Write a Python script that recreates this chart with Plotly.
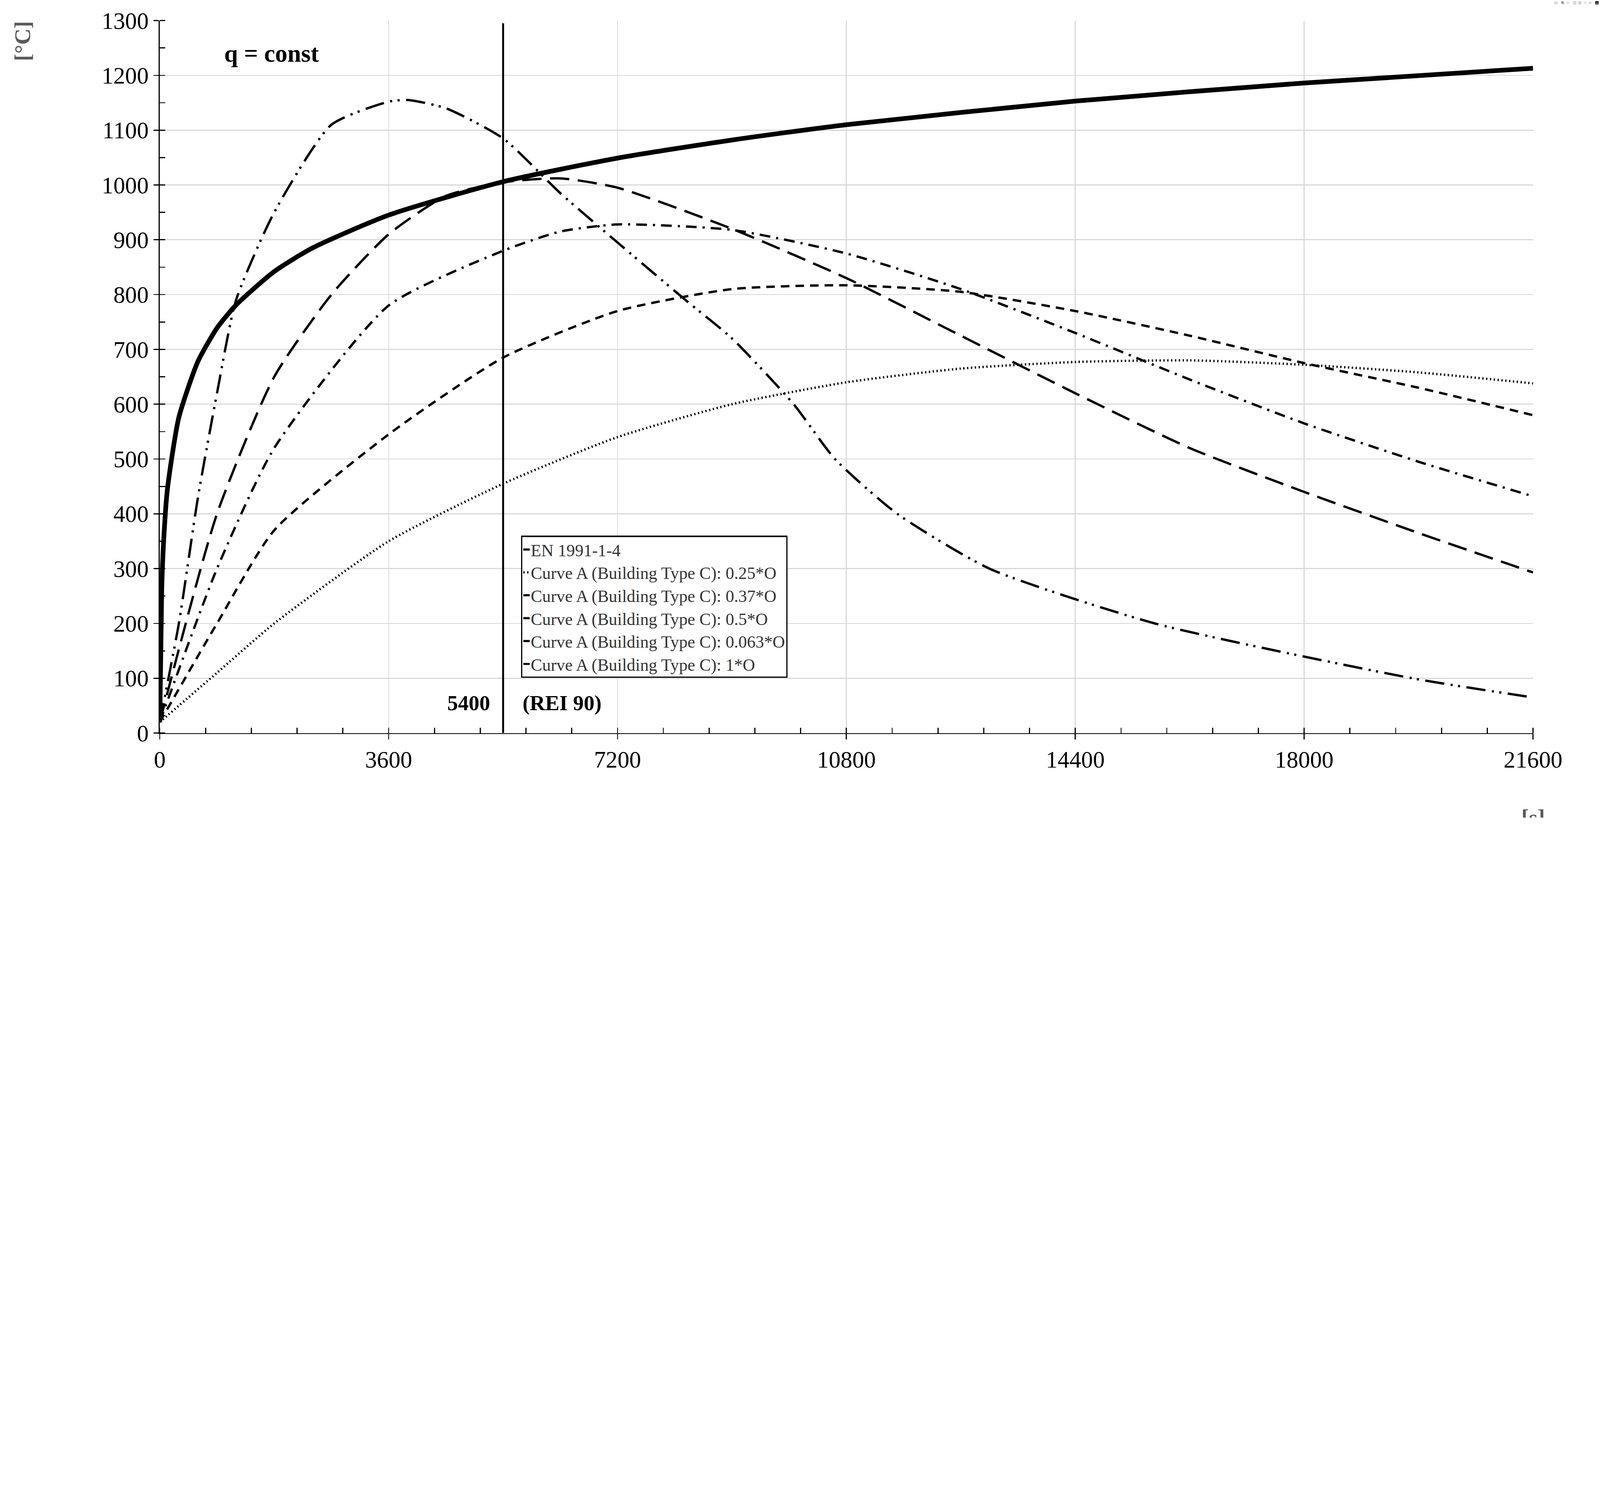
import plotly.graph_objects as go

iso_t = [0, 30, 60, 120, 300, 600, 900, 1200, 1800, 2400, 3600, 5400, 7200, 9000, 10800, 14400, 18000, 21600]
iso_T = [20, 261, 349, 445, 576, 678, 739, 781, 842, 885, 945, 1006, 1049, 1082, 1110, 1153, 1186, 1213]

c025_t = [0, 900, 1800, 3600, 5400, 7200, 9000, 10800, 12600, 14400, 16200, 18000, 19800, 21600]
c025_T = [20, 110, 200, 350, 455, 540, 600, 640, 665, 677, 680, 672, 658, 638]

c037_t = [0, 900, 1800, 3600, 5400, 7200, 9000, 10800, 12600, 14400, 16200, 18000, 19800, 21600]
c037_T = [20, 200, 370, 545, 685, 770, 810, 817, 805, 770, 725, 675, 630, 580]

c05_t = [0, 900, 1800, 3600, 5400, 6300, 7200, 9000, 10800, 12600, 14400, 16200, 18000, 19800, 21600]
c05_T = [20, 300, 520, 780, 880, 915, 928, 918, 875, 810, 730, 645, 565, 495, 432]

c0063_t = [0, 900, 1800, 2700, 3600, 4500, 5400, 6300, 7200, 9000, 10800, 12600, 14400, 16200, 18000, 19800, 21600]
c0063_T = [20, 400, 650, 800, 910, 980, 1005, 1012, 995, 920, 830, 725, 620, 520, 440, 365, 293]

c1_t = [0, 300, 600, 900, 1200, 1800, 2700, 3600, 3900, 4500, 5400, 6300, 7200, 8270, 9000, 9970, 10620, 11600, 13050, 15650, 19700, 21600]
c1_T = [20, 200, 430, 620, 790, 950, 1110, 1152, 1155, 1140, 1085, 985, 895, 790, 720, 600, 500, 400, 300, 200, 100, 65]

x_ticks = [0, 3600, 7200, 10800, 14400, 18000, 21600]
x_labels = ["0", "3600", "7200", "10800", "14400", "18000", "21600"]

names = ["EN 1991-1-4", "Curve A (Building Type C): 0.25*O", "Curve A (Building Type C): 0.37*O",
         "Curve A (Building Type C): 0.5*O", "Curve A (Building Type C): 0.063*O", "Curve A (Building Type C): 1*O"]
series = [(iso_t, iso_T), (c025_t, c025_T), (c037_t, c037_T), (c05_t, c05_T), (c0063_t, c0063_T), (c1_t, c1_T)]
dashes = ["solid", "6px,12px", "40px,28px", "50px,28px,10px,28px", "90px,40px", "90px,30px,10px,25px,10px,30px"]
widths = [22, 11, 11, 11, 11, 11]

FONT = "Liberation Serif"
fig = go.Figure()
for (t, T), n, d, w in zip(series, names, dashes, widths):
    fig.add_trace(go.Scatter(x=t, y=T, name=n, mode="lines",
                             line=dict(color="black", width=w, dash=d, shape="spline", smoothing=0.6)))

fig.add_shape(type="line", x0=5400, x1=5400, y0=0, y1=1295, xref="x", yref="y",
              line=dict(color="black", width=9))
fig.add_annotation(x=1005, y=1240, text="<b>q = const</b>", showarrow=False, xanchor="left",
                   font=dict(family=FONT, size=115, color="black"))
fig.add_annotation(x=5200, y=55, text="<b>5400</b>", showarrow=False, xanchor="right",
                   font=dict(family=FONT, size=100, color="black"))
fig.add_annotation(x=5700, y=55, text="<b>(REI 90)</b>", showarrow=False, xanchor="left",
                   font=dict(family=FONT, size=100, color="black"))
fig.add_annotation(xref="paper", yref="paper", x=-0.1, y=1.0, text="<b>[°C]</b>", showarrow=False,
                   textangle=-90, xanchor="center", yanchor="top", font=dict(family=FONT, size=105, color="#595959"))
fig.add_annotation(xref="paper", yref="paper", x=1.0, y=-0.1, text="<b>[s]</b>", showarrow=False,
                   xanchor="center", yanchor="top", font=dict(family=FONT, size=105, color="#595959"))

fig.update_layout(
    width=7480, height=3822, plot_bgcolor="white", paper_bgcolor="white",
    margin=dict(l=747, r=313, t=96, b=395),
    font=dict(family=FONT, size=110, color="black"),
    legend=dict(x=0.263, y=0.277, xanchor="left", yanchor="top", bgcolor="white",
                bordercolor="black", borderwidth=6, font=dict(size=80, color="#333"),
                tracegroupgap=0),
    showlegend=True,
)
fig.update_xaxes(range=[0, 21600], tickvals=x_ticks, ticktext=x_labels,
                 showgrid=True, gridcolor="#d9d9d9", gridwidth=5, showline=True, linecolor="black",
                 linewidth=5, ticks="outside", ticklen=25, tickwidth=5, tickcolor="black",
                 minor=dict(dtick=720, ticks="inside", ticklen=25, tickwidth=5, tickcolor="black", showgrid=False),
                 zeroline=False)
fig.update_yaxes(range=[0, 1300], dtick=100, showgrid=True, gridcolor="#d9d9d9", gridwidth=5,
                 showline=True, linecolor="black", linewidth=5, ticks="outside", ticklen=25, tickwidth=5,
                 tickcolor="black", minor=dict(dtick=50, ticks="inside", ticklen=25, tickwidth=5,
                 tickcolor="black", showgrid=False), zeroline=False)

post = """
document.body.style.margin='0';
document.body.style.overflow='hidden';
var d=document.getElementById('{plot_id}');
function fit(){
  var s=Math.min(window.innerWidth/7480, window.innerHeight/3822);
  d.style.transformOrigin='0 0';
  d.style.transform='scale('+s+')';
}
fit(); window.addEventListener('resize', fit);
"""
fig.write_html("out.html", post_script=post)
